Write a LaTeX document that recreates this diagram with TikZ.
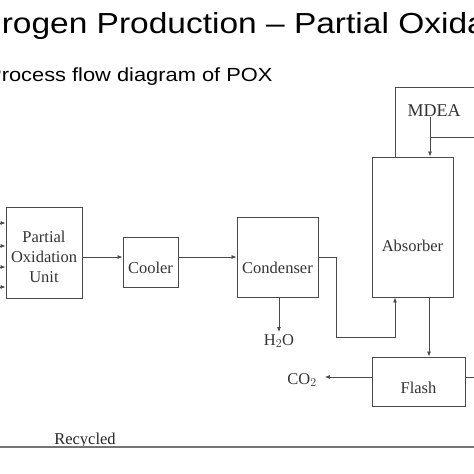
\documentclass[tikz,border=0pt]{standalone}
\usepackage{fontspec}
\setmainfont{Liberation Serif}
\newfontfamily\titlefont[FakeStretch=1.155]{Liberation Sans}
\newfontfamily\subtitlefont[FakeStretch=1.15]{Liberation Sans}
\usetikzlibrary{arrows.meta,positioning,calc}
\definecolor{linegray}{HTML}{4A4A4A}
\definecolor{recgray}{HTML}{747474}

\begin{document}
\begin{tikzpicture}[x=1pt,y=-1pt,
  unit/.style={rectangle, draw=linegray, line width=0.9pt, inner sep=0pt},
  lbl/.style={font=\fontsize{16.5}{20}\selectfont, text=black!80, align=center, inner sep=0pt},
  flow/.style={-{Latex[length=5pt,width=4pt]}, line width=0.8pt, draw=linegray},
  pipe/.style={line width=0.8pt, draw=linegray},
]
\useasboundingbox (0,0) rectangle (474,474);
\clip (0,0) rectangle (474,474);

% --- heading (cut off at both sides, as on the slide) ---
\node[anchor=base west, inner sep=0pt, font=\titlefont\fontsize{29}{34}\selectfont] (title) at (-58,33) {Hydrogen Production – Partial Oxidation};
\node[anchor=base west, inner sep=0pt, font=\subtitlefont\fontsize{19}{23}\selectfont] (subtitle) at (-13,81) {Process flow diagram of POX};

% --- units ---
\node[unit, minimum width=76pt, minimum height=91pt] (pou) at (44,252.5) {};
\node[unit, minimum width=55pt, minimum height=50pt] (cooler) at (150.5,262) {};
\node[unit, minimum width=81pt, minimum height=80pt] (cond) at (277.5,257) {};
\node[unit, minimum width=81pt, minimum height=140pt] (absorb) at (412.5,227) {};
\node[unit, minimum width=93pt, minimum height=49pt] (flash) at (418.5,381.5) {};

\node[lbl] (poutxt) at ([yshift=-4pt]pou.center) {Partial\\Oxidation\\Unit};
\node[lbl] (coolertxt) at ([yshift=-6pt]cooler.center) {Cooler};
\node[lbl] (condtxt) at ([yshift=-11pt]cond.center) {Condenser};
\node[lbl] (absorbtxt) at ([yshift=-19pt]absorb.center) {Absorber};
\node[lbl] (flashtxt) at ([yshift=-6pt]flash.center) {Flash};

% --- stream labels ---
\node[lbl, font=\fontsize{18}{20}\selectfont] (mdea) at (434,111) {MDEA};
\node[lbl, inner sep=2pt] (h2o) at (279,341) {H$_2$O};
\node[lbl, inner xsep=8pt] (co2) at (302,380) {CO$_2$};
\node[lbl, anchor=base, text=black!85] (recyc) at (85,444) {Recycled};

% --- free ends off the slide ---
\foreach \y [count=\i] in {223,246,267,287}
  \coordinate (feed\i) at (-10,\y);
\coordinate (gasout) at (485,87);
\coordinate (leanin) at (485,137);
\coordinate (richout) at (485,377);
\coordinate (recl) at (-10,447);
\coordinate (recr) at (485,447);
\coordinate (bend) at (336,337);
\coordinate (mdeadrop) at ([xshift=-4pt]mdea.south);

% --- feeds into the POX unit ---
\foreach \i in {1,...,4}
  \draw[flow] (feed\i) -- (pou.west |- feed\i);

% --- main train ---
\draw[flow] (pou.east |- cond) -- (cooler.west |- cond);
\draw[flow] (cooler.east |- cond) -- (cond.west);
\draw[flow] (cond.south -| h2o) -- (h2o.north);
\draw[flow] (cond.east) -| (bend) -| ([xshift=-17.5pt]absorb.south);

% --- absorber and solvent loop ---
\draw[pipe] ([xshift=-17.5pt]absorb.north) |- (gasout);
\draw[flow] (mdeadrop) -- (mdeadrop |- absorb.north);
\draw[pipe] (leanin) -- (leanin -| mdeadrop);
\draw[flow] ([xshift=16.5pt]absorb.south) -- ([xshift=10.5pt]flash.north);
\draw[flow] ([yshift=4.5pt]flash.west) -- ([yshift=4.5pt]flash.west -| co2.east);
\draw[pipe] ([yshift=4.5pt]flash.east) -- (richout);

% --- recycle line ---
\draw[line width=1.6pt, draw=recgray] (recl) -- (recr);

\end{tikzpicture}
\end{document}
